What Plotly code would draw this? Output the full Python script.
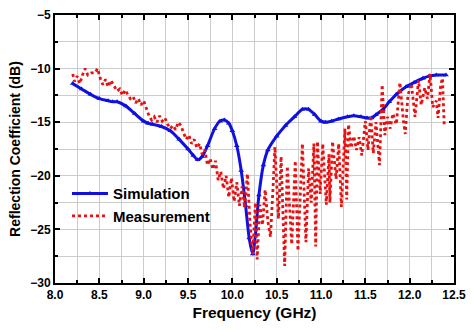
import plotly.graph_objects as go

sim_f = [8.20, 8.30, 8.40, 8.50, 8.60, 8.65, 8.70, 8.80, 8.90, 9.00, 9.05, 9.10, 9.20, 9.30, 9.40,
         9.50, 9.56, 9.61, 9.66, 9.72, 9.80, 9.86, 9.91, 9.96, 10.00, 10.05, 10.10, 10.15, 10.19,
         10.23, 10.26, 10.30, 10.35, 10.40, 10.50, 10.60, 10.70, 10.79, 10.86, 10.93, 11.00, 11.05,
         11.12, 11.20, 11.30, 11.37, 11.45, 11.52, 11.57, 11.62, 11.70, 11.77, 11.85, 11.96, 12.05,
         12.15, 12.22, 12.30, 12.41]
sim_db = [-11.4, -11.9, -12.4, -12.8, -13.0, -13.1, -13.1, -13.5, -14.2, -14.9, -15.1, -15.2, -15.4,
          -15.8, -16.6, -17.5, -18.1, -18.5, -18.2, -17.2, -15.6, -14.9, -14.8, -15.1, -15.8, -17.2,
          -19.5, -22.8, -25.8, -27.3, -25.5, -21.8, -19.0, -17.6, -16.3, -15.3, -14.5, -13.8, -13.8,
          -14.3, -14.9, -15.0, -14.9, -14.7, -14.5, -14.4, -14.5, -14.6, -14.6, -14.3, -13.8, -13.1,
          -12.4, -11.7, -11.3, -10.9, -10.7, -10.6, -10.6]

meas_f = [8.20, 8.22, 8.25, 8.28, 8.31, 8.34, 8.37, 8.41, 8.45, 8.48, 8.51, 8.54, 8.57, 8.60, 8.63,
          8.67, 8.70, 8.73, 8.76, 8.79, 8.82, 8.85, 8.88, 8.91, 8.94, 8.97, 9.00, 9.03, 9.06, 9.09,
          9.12, 9.15, 9.18, 9.21, 9.24, 9.27, 9.30, 9.33, 9.36, 9.39, 9.42, 9.45, 9.48, 9.51, 9.54,
          9.57, 9.60, 9.63, 9.66, 9.69, 9.72, 9.75, 9.78, 9.81, 9.84, 9.87, 9.90, 9.93, 9.96, 9.99,
          10.02, 10.05, 10.08, 10.11, 10.14, 10.17, 10.20, 10.23, 10.26, 10.28, 10.31, 10.34, 10.37,
          10.40, 10.43, 10.46, 10.48, 10.52, 10.55, 10.59, 10.62, 10.67, 10.71, 10.74, 10.79, 10.83,
          10.86, 10.89, 10.92, 10.94, 10.96, 10.99, 11.02, 11.06, 11.09, 11.10, 11.13, 11.17, 11.20,
          11.23, 11.27, 11.29, 11.31, 11.34, 11.37, 11.40, 11.43, 11.46, 11.50, 11.53, 11.56, 11.59,
          11.62, 11.66, 11.69, 11.72, 11.75, 11.78, 11.81, 11.85, 11.89, 11.93, 11.95, 11.98, 12.02,
          12.06, 12.10, 12.13, 12.17, 12.20, 12.23, 12.26, 12.30, 12.32, 12.35, 12.37, 12.39]
meas_db = [-10.5, -11.2, -10.7, -11.4, -10.6, -10.0, -10.6, -10.4, -10.4, -10.0, -10.9, -11.5, -11.0,
           -11.7, -11.1, -11.6, -12.1, -11.9, -12.5, -12.0, -12.4, -12.8, -12.6, -13.2, -12.8, -13.4,
           -13.0, -13.8, -14.4, -14.8, -14.5, -15.0, -14.4, -14.9, -14.6, -15.2, -15.6, -15.3, -15.7,
           -15.0, -15.3, -16.0, -16.6, -16.2, -17.0, -16.6, -17.4, -17.0, -18.0, -17.6, -19.0, -18.4,
           -19.4, -18.6, -20.4, -19.6, -21.2, -20.0, -22.0, -20.2, -22.4, -20.6, -22.8, -21.0, -23.0,
           -19.8, -24.5, -27.3, -22.5, -27.8, -22.7, -24.6, -21.3, -24.2, -25.7, -21.0, -17.3, -24.0,
           -18.2, -28.4, -19.1, -26.4, -18.6, -27.0, -17.0, -26.2, -19.3, -22.5, -17.0, -26.6, -16.8,
           -21.7, -17.0, -22.7, -18.0, -22.5, -16.8, -20.3, -17.0, -22.9, -15.6, -22.2, -15.2, -17.4,
           -16.3, -17.6, -16.4, -18.1, -14.9, -17.6, -14.4, -17.9, -15.0, -19.0, -11.5, -16.2, -14.5,
           -15.6, -14.2, -15.2, -11.3, -14.9, -16.1, -12.5, -11.4, -14.5, -11.1, -13.4, -11.8, -12.8,
           -10.5, -13.6, -13.0, -14.6, -11.5, -10.9, -15.4]

x_ticks = [8.0, 8.5, 9.0, 9.5, 10.0, 10.5, 11.0, 11.5, 12.0, 12.5]
x_labels = ["8.0", "8.5", "9.0", "9.5", "10.0", "10.5", "11.0", "11.5", "12.0", "12.5"]
y_ticks = [-30, -25, -20, -15, -10, -5]

fig = go.Figure()
fig.add_trace(go.Scatter(
    x=sim_f, y=sim_db, name="Simulation", mode="lines+markers",
    line=dict(color="#1010e0", width=3, shape="spline", smoothing=0.8),
    marker=dict(symbol="triangle-up", size=5, color="#1010e0"),
))
fig.add_trace(go.Scatter(
    x=meas_f, y=meas_db, name="Measurement", mode="lines",
    line=dict(color="#e81010", width=2.8, dash="dot"),
))

axis_common = dict(
    showline=True, linewidth=2, linecolor="black", mirror="allticks",
    ticks="inside", ticklen=5, tickwidth=1.5, tickcolor="black",
    showgrid=True, gridcolor="#cccccc", gridwidth=1, zeroline=False,
    tickfont=dict(family="Liberation Sans", size=12, color="black", weight="bold"),
)

fig.update_xaxes(
    range=[8.0, 12.5], tickvals=x_ticks, ticktext=x_labels,
    minor=dict(dtick=0.25, ticks="inside", ticklen=3, tickcolor="black", showgrid=True, gridcolor="#cccccc"),
    title=dict(text="Frequency (GHz)", font=dict(family="Liberation Sans", size=15.5, color="black", weight="bold"), standoff=6),
    **axis_common,
)
fig.update_yaxes(
    range=[-30, -5], tickvals=y_ticks,
    minor=dict(dtick=2.5, ticks="inside", ticklen=3, tickcolor="black", showgrid=True, gridcolor="#cccccc"),
    title=dict(text="Reflection Coefficient (dB)", font=dict(family="Liberation Sans", size=14, color="black", weight="bold"), standoff=6),
    **axis_common,
)

fig.update_layout(
    width=474, height=330,
    margin=dict(l=55, r=16, t=8, b=47),
    paper_bgcolor="white", plot_bgcolor="white",
    showlegend=True,
    legend=dict(x=0.03, y=0.395, xanchor="left", yanchor="top",
                bgcolor="rgba(0,0,0,0)", tracegroupgap=0, itemwidth=36,
                font=dict(family="Liberation Sans", size=15, color="black", weight="bold")),
)

fig.write_html("out.html")
